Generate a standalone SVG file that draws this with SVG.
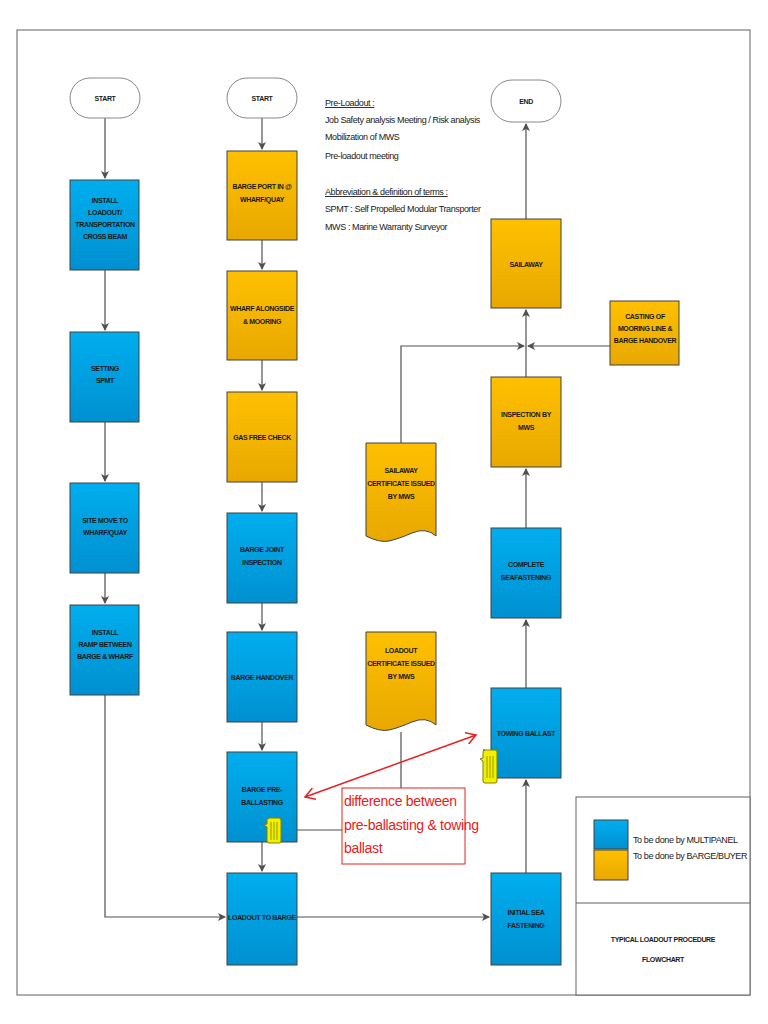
<svg xmlns="http://www.w3.org/2000/svg" width="768" height="1024" viewBox="0 0 768 1024">
<defs>
<linearGradient id="bg" x1="0" y1="0" x2="0" y2="1"><stop offset="0" stop-color="#00aeef"/><stop offset="1" stop-color="#0090d0"/></linearGradient>
<linearGradient id="og" x1="0" y1="0" x2="0" y2="1"><stop offset="0" stop-color="#ffc000"/><stop offset="1" stop-color="#e8a800"/></linearGradient>
<marker id="ar" markerWidth="8" markerHeight="8" refX="7" refY="4" orient="auto" markerUnits="userSpaceOnUse"><path d="M0,0 L8,4 L0,8 L2,4 Z" fill="#505050"/></marker>
<marker id="rr" markerWidth="12" markerHeight="12" refX="10" refY="6" orient="auto-start-reverse" markerUnits="userSpaceOnUse"><path d="M0,0 L10,6 L0,12" fill="none" stroke="#e82020" stroke-width="1.5"/></marker>
</defs>
<style>
.b{fill:url(#bg);stroke:#404040;stroke-width:1}
.o{fill:url(#og);stroke:#404040;stroke-width:1}
.t{fill:#fff;stroke:#888;stroke-width:1}
.l{font-family:"Liberation Sans",Arial,sans-serif;font-size:7px;letter-spacing:-0.35px;font-weight:bold;fill:#1a1a1a;text-anchor:middle}
.n{font-family:"Liberation Sans",Arial,sans-serif;font-size:9px;letter-spacing:-0.4px;fill:#1a1a1a}
.c{fill:none;stroke:#505050;stroke-width:1.2}
.y{fill:#f0f000;stroke:#808000;stroke-width:1}
</style>
<rect x="17" y="30" width="733" height="965" fill="#fff" stroke="#606060"/>
<g id="connectors">
<path class="c" d="M105 118V178" marker-end="url(#ar)"/>
<path class="c" d="M105 270V330" marker-end="url(#ar)"/>
<path class="c" d="M105 422V481" marker-end="url(#ar)"/>
<path class="c" d="M105 573V603" marker-end="url(#ar)"/>
<path class="c" d="M105 695V917H225" marker-end="url(#ar)"/>
<path class="c" d="M262 118V149" marker-end="url(#ar)"/>
<path class="c" d="M262 240V269" marker-end="url(#ar)"/>
<path class="c" d="M262 360V390" marker-end="url(#ar)"/>
<path class="c" d="M262 482V511" marker-end="url(#ar)"/>
<path class="c" d="M262 603V630" marker-end="url(#ar)"/>
<path class="c" d="M262 722V750" marker-end="url(#ar)"/>
<path class="c" d="M262 842V871" marker-end="url(#ar)"/>
<path class="c" d="M401 732V830H264" marker-end="url(#ar)"/>
<path class="c" d="M297 917H489" marker-end="url(#ar)"/>
<path class="c" d="M526 873V780" marker-end="url(#ar)"/>
<path class="c" d="M526 688V620" marker-end="url(#ar)"/>
<path class="c" d="M526 528V469" marker-end="url(#ar)"/>
<path class="c" d="M526 377V310" marker-end="url(#ar)"/>
<path class="c" d="M526 219V124" marker-end="url(#ar)"/>
<path class="c" d="M401 443V346H524" marker-end="url(#ar)"/>
<path class="c" d="M610 346H528" marker-end="url(#ar)"/>
<path d="M305 797L476 735" stroke="#e82020" stroke-width="1.5" fill="none" marker-start="url(#rr)" marker-end="url(#rr)"/>
</g>
<g id="start1"><rect class="t" x="70" y="78" width="70" height="40" rx="20"/><text class="l" x="105" y="101">START</text></g>
<g id="start2"><rect class="t" x="227" y="78" width="70" height="40" rx="20"/><text class="l" x="262" y="101">START</text></g>
<g id="end"><rect class="t" x="491" y="80" width="70" height="42" rx="21"/><text class="l" x="526" y="104">END</text></g>
<g id="n1"><rect class="b" x="70" y="180" width="69" height="90"/><text class="l" x="105" y="203"><tspan x="105">INSTALL</tspan><tspan x="105" dy="12">LOADOUT/</tspan><tspan x="105" dy="12">TRANSPORTATION</tspan><tspan x="105" dy="12">CROSS BEAM</tspan></text></g>
<g id="n2"><rect class="b" x="70" y="332" width="69" height="90"/><text class="l" x="105" y="371"><tspan x="105">SETTING</tspan><tspan x="105" dy="12">SPMT</tspan></text></g>
<g id="n3"><rect class="b" x="70" y="483" width="69" height="90"/><text class="l" x="105" y="523"><tspan x="105">SITE MOVE TO</tspan><tspan x="105" dy="12">WHARF/QUAY</tspan></text></g>
<g id="n4"><rect class="b" x="70" y="605" width="69" height="90"/><text class="l" x="105" y="635"><tspan x="105">INSTALL</tspan><tspan x="105" dy="12">RAMP BETWEEN</tspan><tspan x="105" dy="12">BARGE &amp; WHARF</tspan></text></g>
<g id="m1"><rect class="o" x="227" y="151" width="70" height="89"/><text class="l" x="262" y="189"><tspan x="262">BARGE PORT IN @</tspan><tspan x="262" dy="13">WHARF/QUAY</tspan></text></g>
<g id="m2"><rect class="o" x="227" y="271" width="70" height="89"/><text class="l" x="262" y="311"><tspan x="262">WHARF ALONGSIDE</tspan><tspan x="262" dy="13">&amp; MOORING</tspan></text></g>
<g id="m3"><rect class="o" x="227" y="392" width="70" height="90"/><text class="l" x="262" y="440">GAS FREE CHECK</text></g>
<g id="m4"><rect class="b" x="227" y="513" width="70" height="90"/><text class="l" x="262" y="552"><tspan x="262">BARGE JOINT</tspan><tspan x="262" dy="13">INSPECTION</tspan></text></g>
<g id="m5"><rect class="b" x="227" y="632" width="70" height="90"/><text class="l" x="262" y="680">BARGE HANDOVER</text></g>
<g id="m6"><rect class="b" x="227" y="752" width="70" height="90"/><text class="l" x="262" y="792"><tspan x="262">BARGE PRE-</tspan><tspan x="262" dy="13">BALLASTING</tspan></text><path class="y" d="M267 818h12a2 2 0 0 1 2 2v21a2 2 0 0 1-2 2h-10a2 2 0 0 1-2-2v-14l-3-2l3-1v-4a2 2 0 0 1 2-2z"/><path d="M271 822v18M274 822v18M277 822v18" stroke="#808000" stroke-width="0.8"/></g>
<g id="m7"><rect class="b" x="227" y="873" width="70" height="92"/><text class="l" x="262" y="920">LOADOUT TO BARGE</text></g>
<g id="r1"><rect class="o" x="491" y="219" width="70" height="89"/><text class="l" x="526" y="267">SAILAWAY</text></g>
<g id="r2"><rect class="o" x="491" y="377" width="70" height="90"/><text class="l" x="526" y="417"><tspan x="526">INSPECTION BY</tspan><tspan x="526" dy="13">MWS</tspan></text></g>
<g id="r3"><rect class="b" x="491" y="528" width="70" height="90"/><text class="l" x="526" y="567"><tspan x="526">COMPLETE</tspan><tspan x="526" dy="13">SEAFASTENING</tspan></text></g>
<g id="r4"><rect class="b" x="491" y="688" width="70" height="90"/><text class="l" x="526" y="736">TOWING BALLAST</text><path class="y" d="M483 750h12a2 2 0 0 1 2 2v29a2 2 0 0 1-2 2h-10a2 2 0 0 1-2-2v-20l-3-2l3-1v-6a2 2 0 0 1 2-2z"/><path d="M487 756v22M490 756v22M493 756v22" stroke="#808000" stroke-width="0.8"/></g>
<g id="r5"><rect class="b" x="491" y="873" width="70" height="92"/><text class="l" x="526" y="915"><tspan x="526">INITIAL SEA</tspan><tspan x="526" dy="13">FASTENING</tspan></text></g>
<g id="casting"><rect class="o" x="610" y="301" width="69" height="64"/><text class="l" x="645" y="319"><tspan x="645">CASTING OF</tspan><tspan x="645" dy="12">MOORING LINE &amp;</tspan><tspan x="645" dy="12">BARGE HANDOVER</tspan></text></g>
<g id="doc1"><path class="o" d="M366 443H436V536Q426 527 412 533T389 541T366 536Z"/><text class="l" x="401" y="473"><tspan x="401">SAILAWAY</tspan><tspan x="401" dy="13">CERTIFICATE ISSUED</tspan><tspan x="401" dy="13">BY MWS</tspan></text></g>
<g id="doc2"><path class="o" d="M366 632H436V725Q426 716 412 722T389 730T366 725Z"/><text class="l" x="401" y="653"><tspan x="401">LOADOUT</tspan><tspan x="401" dy="13">CERTIFICATE ISSUED</tspan><tspan x="401" dy="13">BY MWS</tspan></text></g>
<g id="note"><text class="n" x="325" y="106" text-decoration="underline">Pre-Loadout :</text><text class="n" x="325" y="123">Job Safety analysis Meeting / Risk analysis</text><text class="n" x="325" y="140">Mobilization of MWS</text><text class="n" x="325" y="159">Pre-loadout meeting</text><text class="n" x="325" y="195" text-decoration="underline">Abbreviation &amp; definition of terms :</text><text class="n" x="325" y="212">SPMT : Self Propelled Modular Transporter</text><text class="n" x="325" y="230">MWS : Marine Warranty Surveyor</text></g>
<g id="comment"><rect x="342" y="788" width="123" height="76" fill="#fff" stroke="#e82020"/><text font-family="Liberation Sans,Arial,sans-serif" font-size="14" letter-spacing="-0.3" fill="#e82020"><tspan x="344" y="806">difference between</tspan><tspan x="344" y="830">pre-ballasting &amp; towing</tspan><tspan x="344" y="853">ballast</tspan></text></g>
<g id="legend"><rect x="576" y="797" width="174" height="198" fill="#fff" stroke="#606060"/><line x1="576" y1="903" x2="750" y2="903" stroke="#606060"/><rect class="b" x="594" y="820" width="34" height="29"/><rect class="o" x="594" y="850" width="34" height="30"/><text class="n" x="633" y="843">To be done by MULTIPANEL</text><text class="n" x="633" y="859">To be done by BARGE/BUYER</text><text class="l" font-size="9" x="663" y="942">TYPICAL LOADOUT PROCEDURE</text><text class="l" font-size="9" x="663" y="962">FLOWCHART</text></g>
</svg>
